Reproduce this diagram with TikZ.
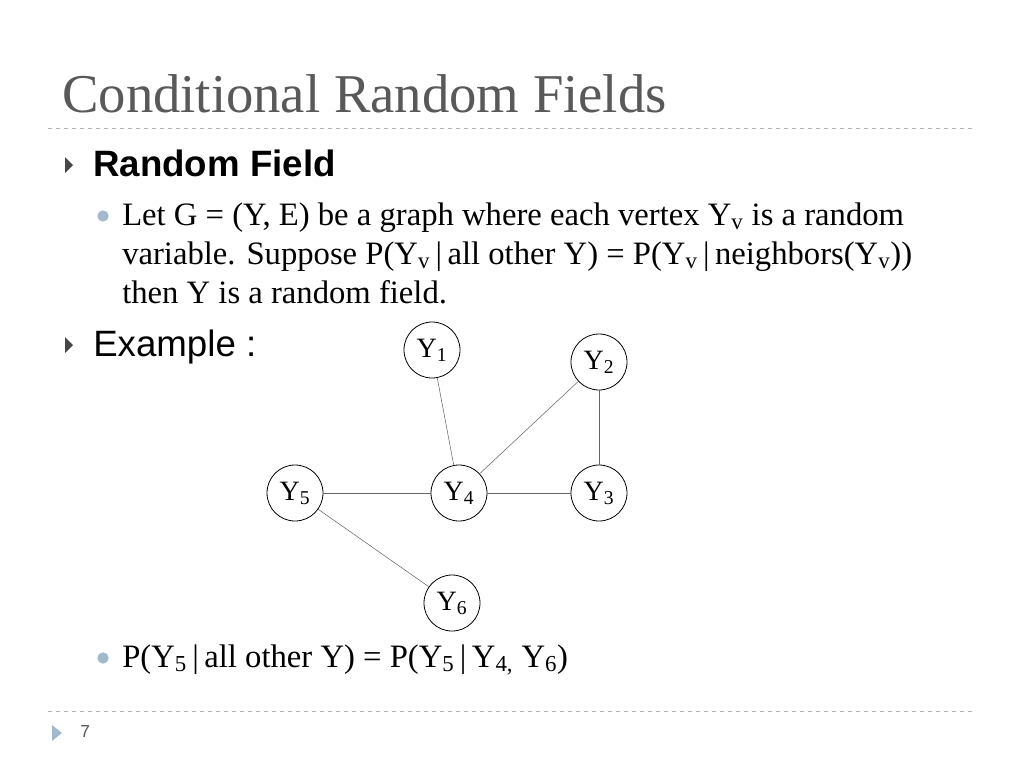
\documentclass[tikz,border=0pt]{standalone}
\usepackage{fontspec}
\setmainfont{Liberation Serif}
\setsansfont{Liberation Sans}
\usetikzlibrary{positioning}
\definecolor{titlegray}{RGB}{89,89,89}
\definecolor{bulletblue}{RGB}{160,185,205}
\definecolor{arrowgray}{RGB}{70,70,70}
\tikzset{
  rv/.style={draw, circle, minimum size=42pt, inner sep=0pt, line width=0.6pt, font=\fontsize{21}{23}\selectfont},
  edge/.style={draw, line width=0.4pt, gray!80!black},
  tri/.style={fill=arrowgray},
  dot/.style={circle, fill=bulletblue, inner sep=0pt, minimum size=8.5pt},
  body/.style={anchor=base west, inner sep=0pt, font=\fontsize{24.5}{26}\selectfont}
}
\begin{document}
\begin{tikzpicture}[x=0.75pt,y=0.75pt,yscale=-1,xscale=1]
\useasboundingbox (0,0) rectangle (1024,768);
\fill[white] (0,0) rectangle (1024,768);

% Title
\node[anchor=base west, inner sep=0pt, text=titlegray, font=\fontsize{41}{44}\selectfont] (title) at (62,112) {Conditional Random Fields};
\draw[dashed, gray!60, line width=0.5pt] (48,128) -- (972,128);
\draw[dashed, gray!60, line width=0.5pt] (48,711) -- (972,711);

% Bullets
\fill[tri] (65,157) -- (73,165) -- (65,173) -- cycle;
\node[anchor=base west, inner sep=0pt, font=\sffamily\bfseries\fontsize{27.5}{30}\selectfont] (rf) at (93,176) {Random Field};
\node[dot] (d1) at (103,216) {};
\node[body] (def1) at (122,225) {Let G = (Y, E) be a graph where each vertex Y\textsubscript{v} is a random};
\node[body] (def2) at (122,264) {variable. Suppose P(Y\textsubscript{v}\,|\,all other Y) = P(Y\textsubscript{v}\,|\,neighbors(Y\textsubscript{v}))};
\node[body] (def3) at (122,303) {then Y is a random field.};
\fill[tri] (65,337) -- (73,345) -- (65,353) -- cycle;
\node[anchor=base west, inner sep=0pt, font=\sffamily\fontsize{27.5}{30}\selectfont] (ex) at (93,356) {Example :};

% Graph
\node[rv] (y1) at (432,350) {Y\textsubscript{1}};
\node[rv] (y2) at (599,362) {Y\textsubscript{2}};
\node[rv] (y3) at (599,493) {Y\textsubscript{3}};
\node[rv] (y4) at (459,493) {Y\textsubscript{4}};
\node[rv] (y5) at (295,493) {Y\textsubscript{5}};
\node[rv] (y6) at (452,603) {Y\textsubscript{6}};
\draw[edge] (y1) -- (y4);
\draw[edge] (y2) -- (y4);
\draw[edge] (y2) -- (y3);
\draw[edge] (y5) -- (y4);
\draw[edge] (y4) -- (y3);
\draw[edge] (y5) -- (y6);

% Bottom bullet
\node[dot] (d2) at (103,658) {};
\node[body] (eq) at (122,667)
  {P(Y\textsubscript{5}\,|\,all other Y) = P(Y\textsubscript{5}\,|\,Y\textsubscript{4,} Y\textsubscript{6})};

% Footer
\fill[bulletblue] (52,725) -- (62,733) -- (52,741) -- cycle;
\node[anchor=base west, inner sep=0pt, text=titlegray, font=\sffamily\fontsize{13}{14}\selectfont] (pg) at (80,737) {7};
\end{tikzpicture}
\end{document}
